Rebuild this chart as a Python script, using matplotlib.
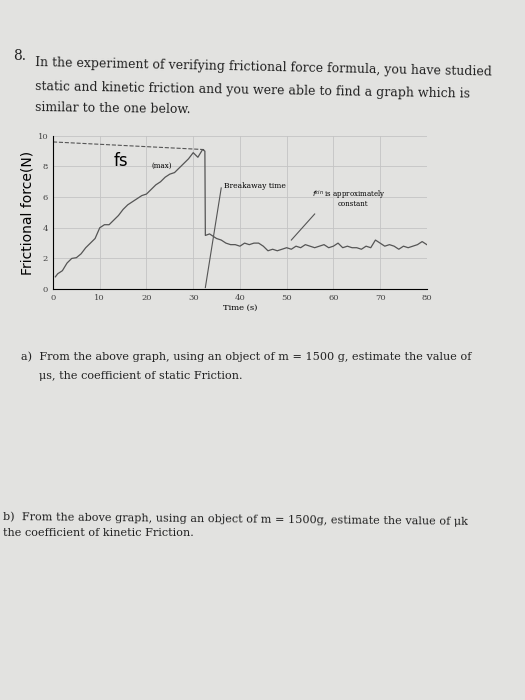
import matplotlib
matplotlib.use("Agg")
import matplotlib.pyplot as plt

t_static = [0.5,1,2,3,4,5,6,7,8,9,10,11,12,13,14,15,16,17,18,19,20,21,22,23,24,25,26,27,28,29,30,31,32,32.5]
f_static = [0.8,1.0,1.2,1.7,2.0,2.05,2.3,2.7,3.0,3.3,4.0,4.2,4.2,4.5,4.8,5.2,5.5,5.7,5.9,6.1,6.2,6.5,6.8,7.0,7.3,7.5,7.6,7.9,8.2,8.5,8.9,8.6,9.1,9.0]
t_kin = [32.6,33.5,34,35,36,37,38,39,40,41,42,43,44,45,46,47,48,49,50,51,52,53,54,55,56,57,58,59,60,61,62,63,64,65,66,67,68,69,70,71,72,73,74,75,76,77,78,79,80]
f_kin = [3.5,3.6,3.5,3.3,3.2,3.0,2.9,2.9,2.8,3.0,2.9,3.0,3.0,2.8,2.5,2.6,2.5,2.6,2.7,2.6,2.8,2.7,2.9,2.8,2.7,2.8,2.9,2.7,2.8,3.0,2.7,2.8,2.7,2.7,2.6,2.8,2.7,3.2,3.0,2.8,2.9,2.8,2.6,2.8,2.7,2.8,2.9,3.1,2.9]
x_ticks = [0,10,20,30,40,50,60,70,80]
y_ticks = [0,2,4,6,8,10]

bg = "#e2e2e0"
fig = plt.figure(figsize=(5.25,7.0), dpi=100, facecolor=bg)
ax = fig.add_axes([0.101,0.587,0.712,0.219], facecolor=bg)
ax.plot(t_static+t_kin, f_static+f_kin, color="#555555", lw=0.9)
ax.plot([0,32.5],[9.6,9.1], ls="--", color="#555555", lw=0.8)
ax.plot([32.6,36],[0.1,6.6], color="#555555", lw=0.8)
ax.plot([51,56],[3.2,4.9], color="#555555", lw=0.8)
ax.set_xlim(0,80); ax.set_ylim(0,10)
ax.set_xticks(x_ticks); ax.set_yticks(y_ticks)
ax.grid(True, color="#c4c4c4", lw=0.6)
for s in ["top","right"]:
    ax.spines[s].set_visible(False)
ax.tick_params(length=0, labelsize=6, colors="#444444")
for l in ax.get_xticklabels()+ax.get_yticklabels():
    l.set_family("DejaVu Serif")
ax.set_xlabel("Time (s)", fontsize=6, family="DejaVu Serif", labelpad=1)
ax.set_ylabel("Frictional force(N)", fontsize=10, labelpad=2)
ax.text(13,8,"fs", fontsize=12)
ax.text(21,7.9,"(max)", fontsize=5, family="DejaVu Serif")
ax.text(36.5,6.6,"Breakaway time", fontsize=5.5, family="DejaVu Serif")
ax.text(55.5,6.0,r"$f^{kin}$ is approximately", fontsize=5, family="DejaVu Serif")
ax.text(61,5.4,"constant", fontsize=5, family="DejaVu Serif")

tx = dict(family="DejaVu Serif", color="#222222", rotation_mode="anchor")
fig.text(0.025,0.914,"8.", fontsize=10, **tx)
fig.text(0.066,0.905,"In the experiment of verifying frictional force formula, you have studied", fontsize=9.0, rotation=-1.2, **tx)
fig.text(0.066,0.872,"static and kinetic friction and you were able to find a graph which is", fontsize=9.0, rotation=-1.0, **tx)
fig.text(0.066,0.842,"similar to the one below.", fontsize=9.0, rotation=-0.8, **tx)
fig.text(0.04,0.486,"a)  From the above graph, using an object of m = 1500 g, estimate the value of", fontsize=8.1, **tx)
fig.text(0.075,0.459,"μs, the coefficient of static Friction.", fontsize=8.1, **tx)
fig.text(0.005,0.257,"b)  From the above graph, using an object of m = 1500g, estimate the value of μk", fontsize=8.1, rotation=-0.6, **tx)
fig.text(0.005,0.235,"the coefficient of kinetic Friction.", fontsize=8.1, **tx)
fig.savefig("out.png", dpi=100, facecolor=bg)
